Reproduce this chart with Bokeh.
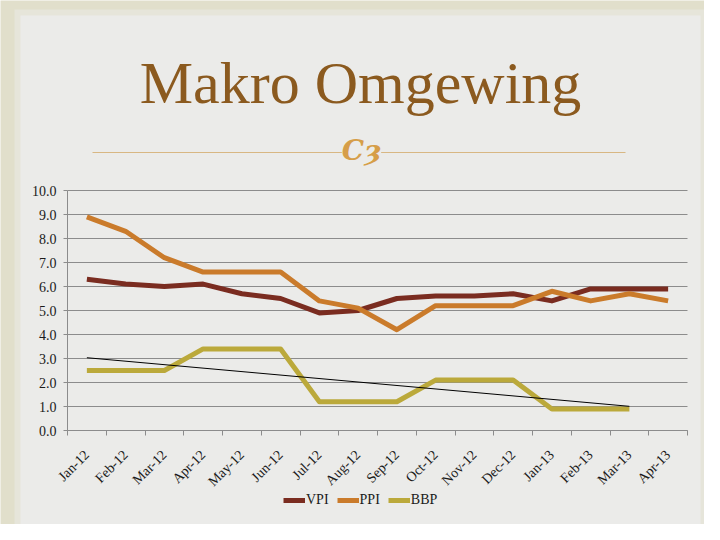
import numpy as np
from bokeh.plotting import figure
from bokeh.models import (Range1d, FixedTicker, NumeralTickFormatter, Legend, LegendItem,
                          LinearAxis)
from bokeh.core.properties import value
from bokeh.embed import file_html
from bokeh.resources import INLINE

# ---------------- data ----------------
months = ["Jan-12", "Feb-12", "Mar-12", "Apr-12", "May-12", "Jun-12", "Jul-12", "Aug-12",
          "Sep-12", "Oct-12", "Nov-12", "Dec-12", "Jan-13", "Feb-13", "Mar-13", "Apr-13"]
vpi = [6.3, 6.1, 6.0, 6.1, 5.7, 5.5, 4.9, 5.0, 5.5, 5.6, 5.6, 5.7, 5.4, 5.9, 5.9, 5.9]
ppi = [8.9, 8.3, 7.2, 6.6, 6.6, 6.6, 5.4, 5.1, 4.2, 5.2, 5.2, 5.2, 5.8, 5.4, 5.7, 5.4]
bbp = [2.5, 2.5, 2.5, 3.4, 3.4, 3.4, 1.2, 1.2, 1.2, 2.1, 2.1, 2.1, 0.9, 0.9, 0.9]
y_ticks = [0, 1, 2, 3, 4, 5, 6, 7, 8, 9, 10]
title_text = "Makro Omgewing"
ornament_text = "Cȝ"
series_names = ["VPI", "PPI", "BBP"]

# ---------------- styling ----------------
C_VPI = "#7a2c20"
C_PPI = "#ca7b2b"
C_BBP = "#bba93b"
C_TITLE = "#8b5a1f"
C_GRID = "#8c8c8c"
C_ORN_LINE = "#d8b783"
C_ORN = "#d69e48"
BEIGE = "#e1dfcb"
BAND = "#e6e5da"
INNER = "#ebebe9"
FONT = "Liberation Serif"
TXT = "#1a1a1a"

W, H = 704, 524
# plot area in page pixels
PX_L, PX_R, PX_T, PX_B = 67, 687, 190, 430
n = len(months)
ymax = y_ticks[-1]
sx = (PX_R - PX_L) / n
sy = (PX_B - PX_T) / ymax

p = figure(width=W, height=H, output_backend="svg", toolbar_location=None,
           x_range=Range1d(-PX_L / sx, (W - PX_L) / sx),
           y_range=Range1d(-(H - PX_B) / sy, PX_B / sy),
           x_axis_type=None, y_axis_type=None, min_border=0)
p.extra_x_ranges = {"px": Range1d(0, W)}
p.extra_y_ranges = {"px": Range1d(H, 0)}
p.border_fill_color = BEIGE
p.background_fill_color = BEIGE
p.outline_line_color = None
p.xgrid.visible = False
p.ygrid.visible = False

# slide background
p.quad(left=[14], right=[W + 10], top=[9], bottom=[H + 10], fill_color=BAND, line_color=None,
       x_range_name="px", y_range_name="px")
p.quad(left=[20], right=[700], top=[15], bottom=[H + 10], fill_color=INNER, line_color=None,
       x_range_name="px", y_range_name="px")

# title + ornament
p.text(x=[360], y=[82], text=[title_text], text_align="center", text_baseline="alphabetic",
       text_font=value(FONT), text_font_size="60px", text_color=C_TITLE,
       x_range_name="px", y_range_name="px")
p.segment(x0=[92], y0=[152], x1=[625], y1=[152], line_color=C_ORN_LINE, line_width=1.2,
          x_range_name="px", y_range_name="px")
p.text(x=[361], y=[150], text=[ornament_text], text_align="center", text_baseline="middle",
       text_font=value("DejaVu Serif"), text_font_style="bold italic", text_font_size="28px",
       text_color=C_ORN, background_fill_color=INNER, background_fill_alpha=1,
       x_range_name="px", y_range_name="px")

# horizontal grid lines at the y ticks
p.segment(x0=[0] * len(y_ticks), x1=[n] * len(y_ticks), y0=y_ticks, y1=y_ticks,
          line_color=C_GRID, line_width=1)

# axes (fixed at the data origin)
yaxis = LinearAxis(fixed_location=0, bounds=(0, ymax))
yaxis.ticker = FixedTicker(ticks=y_ticks)
yaxis.formatter = NumeralTickFormatter(format="0.0")
yaxis.axis_line_color = C_GRID
yaxis.major_tick_line_color = C_GRID
yaxis.major_tick_in = 0
yaxis.major_tick_out = 4
yaxis.minor_tick_line_color = None
yaxis.major_label_text_font = FONT
yaxis.major_label_text_font_size = "14px"
yaxis.major_label_text_color = TXT
yaxis.major_label_standoff = 7
p.add_layout(yaxis, "left")

centers = [i + 0.5 for i in range(n)]
bounds = list(range(n + 1))
xaxis = LinearAxis(fixed_location=0, bounds=(0, n))
xaxis.ticker = FixedTicker(ticks=centers, minor_ticks=bounds)
xaxis.major_label_overrides = {c: m for c, m in zip(centers, months)}
xaxis.major_label_orientation = np.pi / 4
xaxis.axis_line_color = C_GRID
xaxis.major_tick_line_color = None
xaxis.major_tick_in = 0
xaxis.major_tick_out = 0
xaxis.minor_tick_line_color = C_GRID
xaxis.minor_tick_in = 0
xaxis.minor_tick_out = 5
xaxis.major_label_text_font = FONT
xaxis.major_label_text_font_size = "14px"
xaxis.major_label_text_color = TXT
xaxis.major_label_standoff = 17
p.add_layout(xaxis, "below")

# series
r_vpi = p.line(centers[:len(vpi)], vpi, line_color=C_VPI, line_width=5, line_join="round")
r_ppi = p.line(centers[:len(ppi)], ppi, line_color=C_PPI, line_width=5, line_join="round")
r_bbp = p.line(centers[:len(bbp)], bbp, line_color=C_BBP, line_width=5, line_join="round")

# linear trend of BBP
bx = np.arange(len(bbp))
coef = np.polyfit(bx, bbp, 1)
p.line([centers[0], centers[len(bbp) - 1]],
       [coef[1], coef[0] * (len(bbp) - 1) + coef[1]], line_color="black", line_width=1)

# legend (location = bottom-left corner, pixels from the frame's bottom-left)
legend = Legend(items=[LegendItem(label=nm, renderers=[r]) for nm, r in
                       zip(series_names, [r_vpi, r_ppi, r_bbp])],
                orientation="horizontal", location=(283, H - 508),
                border_line_color=None, background_fill_alpha=0,
                glyph_width=22, glyph_height=14, label_height=14, label_standoff=1, spacing=8,
                label_text_font=FONT, label_text_font_size="14px", label_text_color=TXT,
                padding=0, margin=0)
p.add_layout(legend)

open("out.html", "w").write(file_html(p, INLINE))
